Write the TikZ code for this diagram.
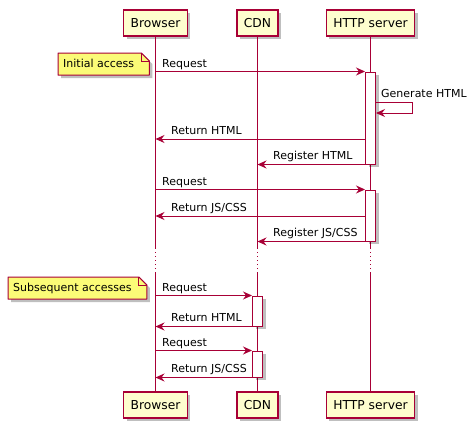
\documentclass[tikz,border=0pt]{standalone}
\usepackage{fontspec}
\setmainfont{DejaVu Sans}
\usetikzlibrary{arrows.meta,shadows,backgrounds}

\definecolor{umlred}{HTML}{A80036}
\definecolor{umlbox}{HTML}{FEFECE}
\definecolor{umlnote}{HTML}{FBFB77}

\tikzset{
  umlshadow/.style={drop shadow={shadow xshift=3pt,shadow yshift=-3pt,opacity=.25,fill=black}},
  actor/.style={draw=umlred,fill=umlbox,line width=1.3pt,minimum height=26pt,inner xsep=7pt,
    font=\fontsize{12.3}{14}\selectfont,umlshadow},
  act/.style={draw=umlred,fill=white,line width=1pt,minimum width=10pt,inner sep=0pt,umlshadow},
  life/.style={umlred,line width=1pt},
  msg/.style={umlred,line width=1pt,-{Stealth[length=9pt,width=8pt,inset=3pt]}},
  lbl/.style={anchor=base west,inner sep=0pt,font=\fontsize{11}{13}\selectfont},
  notebox/.style={draw=umlred,fill=umlnote,line width=1pt,line join=round,umlshadow},
  notetxt/.style={anchor=west,inner sep=0pt,text height=8pt,text depth=2pt,font=\fontsize{11}{13}\selectfont}
}

\begin{document}
\begin{tikzpicture}[x=1pt,y=-1pt]
\useasboundingbox (0,0) rectangle (474,437);

% participants, top and bottom
\node[actor] (browserT) at (155.5,23) {Browser};
\node[actor] (cdnT) at (257.5,23) {CDN};
\node[actor] (serverT) at (370.5,23) {HTTP server};
\node[actor] (browserB) at (155.5,405) {Browser};
\node[actor] (cdnB) at (257.5,405) {CDN};
\node[actor] (serverB) at (370.5,405) {HTTP server};

% lifelines with the gap
\foreach \p in {browser,cdn,server} {
  \draw[life] (\p T.south) -- (\p T.south |- 0,248);
  \draw[life,dash pattern=on 1pt off 3pt] (\p T.south |- 0,248) -- (\p B.north |- 0,272);
  \draw[life] (\p B.north |- 0,272) -- (\p B.north);
}

% activations
\node[act,minimum height=92pt] (act1) at (370.5,118) {};
\node[act,minimum height=51pt] (act2) at (370.5,215.5) {};
\node[act,minimum height=30pt] (act3) at (257.5,311) {};
\node[act,minimum height=26pt] (act4) at (257.5,364) {};

% initial access
\draw[msg] (browserT |- act1.north) -- (act1.north west);
\node[lbl] (m1) at (162,67) {Request};
\draw[msg] (act1.east |- 0,102) -- ++(36,0) -- ++(0,11) -- (act1.east |- 0,113);
\node[lbl] (m2) at (381,97) {Generate HTML};
\draw[msg] (act1.west |- 0,139) -- (browserT |- 0,139);
\node[lbl] (m3) at (171,134) {Return HTML};
\draw[msg] (act1.south west) -- (cdnT |- act1.south);
\node[lbl] (m4) at (273,159) {Register HTML};
\draw[msg] (browserT |- act2.north) -- (act2.north west);
\node[lbl] (m5) at (162,185) {Request};
\draw[msg] (act2.west |- 0,216) -- (browserT |- 0,216);
\node[lbl] (m6) at (171,211) {Return JS/CSS};
\draw[msg] (act2.south west) -- (cdnT |- act2.south);
\node[lbl] (m7) at (273,236) {Register JS/CSS};

% subsequent accesses
\draw[msg] (browserT |- act3.north) -- (act3.north west);
\node[lbl] (m8) at (162,291) {Request};
\draw[msg] (act3.south west) -- (browserT |- act3.south);
\node[lbl] (m9) at (171,321) {Return HTML};
\draw[msg] (browserT |- act4.north) -- (act4.north west);
\node[lbl] (m10) at (162,346) {Request};
\draw[msg] (act4.south west) -- (browserT |- act4.south);
\node[lbl] (m11) at (171,372) {Return JS/CSS};

% notes
\node[notetxt] (noteA) at (63,64) {Initial access};
\node[notetxt] (noteB) at (13,288) {Subsequent accesses};
\begin{pgfonlayer}{background}
\foreach \n in {noteA,noteB} {
  \draw[notebox] ([xshift=-5pt,yshift=-11pt]\n.west) -- ([xshift=-5pt,yshift=11pt]\n.west)
    -- ([xshift=7pt,yshift=11pt]\n.east) -- ([xshift=15pt,yshift=3pt]\n.east)
    -- ([xshift=15pt,yshift=-11pt]\n.east) -- cycle;
  \draw[umlred,line width=1pt] ([xshift=7pt,yshift=11pt]\n.east) -- ([xshift=7pt,yshift=3pt]\n.east)
    -- ([xshift=15pt,yshift=3pt]\n.east);
}
\end{pgfonlayer}
\end{tikzpicture}
\end{document}
